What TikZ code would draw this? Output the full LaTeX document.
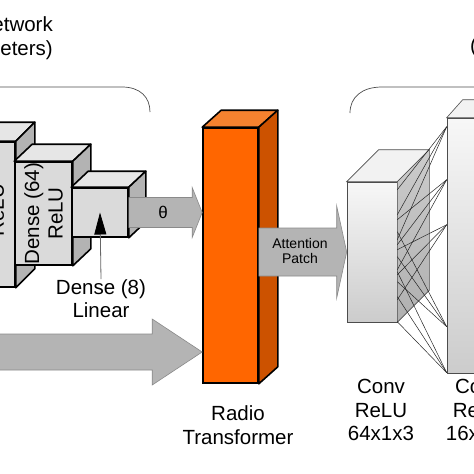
\documentclass[tikz,border=0pt]{standalone}
\usepackage{fontspec}
\setmainfont{Liberation Sans}
\usetikzlibrary{arrows.meta,calc}

\definecolor{orfront}{HTML}{FF6600}
\definecolor{ortop}{HTML}{F5822F}
\definecolor{orside}{HTML}{CC5200}
\definecolor{grfront}{HTML}{DADADA}
\definecolor{grtop}{HTML}{E6E6E6}
\definecolor{grside}{HTML}{B3B3B3}
\definecolor{arfill}{HTML}{B4B4B4}
\definecolor{arline}{HTML}{8A8A8A}

% top and side faces of a box whose front face is node #1
\newcommand{\cubesides}[5]{%
  \draw[#4] (#1.north west) -- ++(#2,#3) -- ([shift={(#2,#3)}]#1.north east) -- (#1.north east) -- cycle;
  \draw[#5] (#1.north east) -- ++(#2,#3) -- ([shift={(#2,#3)}]#1.south east) -- (#1.south east) -- cycle;
}
% fat arrow: from, to, half shaft, half head, head length
\newcommand{\blockarrow}[5]{%
  \draw[fatarrow] ($(#1)+(0,-#3)$) -- ($(#2)+(-#5,-#3)$) -- ($(#2)+(-#5,-#4)$) -- (#2)
    -- ($(#2)+(-#5,#4)$) -- ($(#2)+(-#5,#3)$) -- ($(#1)+(0,#3)$) -- cycle;
}

\begin{document}
\begin{tikzpicture}[x=1pt,y=-1pt,
  lbl/.style={font=\fontsize{20.5}{23.5}\selectfont, align=center, inner sep=0pt},
  densebox/.style={draw=black, line width=1.6pt, fill=grfront, inner sep=0pt},
  densetop/.style={draw=black, line width=1.6pt, fill=grtop, line join=round},
  denseside/.style={draw=black, line width=1.6pt, fill=grside, line join=round},
  orangetop/.style={draw=black, line width=1.6pt, fill=ortop, line join=round},
  orangeside/.style={draw=black, line width=1.6pt, fill=orside, line join=round},
  convbox/.style={draw=black!70, line width=0.6pt, top color=gray!6, bottom color=gray!40, inner sep=0pt},
  convtop/.style={draw=black!70, line width=0.6pt, fill=gray!10},
  convside/.style={draw=black!70, line width=0.6pt, top color=gray!40, bottom color=gray!62},
  fatarrow/.style={draw=arline, line width=0.6pt, fill=arfill},
  kernel/.style={draw=black!85, line width=0.5pt},
  brace/.style={draw=black!70, line width=0.7pt}]
\useasboundingbox (0,0) rectangle (474,474);

% titles and braces
\node[lbl, anchor=east] (nettxt) at (53,24) {etwork};
\node[lbl, anchor=east] (partxt) at (53,50) {eters)};
\node[lbl, anchor=west] (cnntxt) at (470,47) {(};
\draw[brace] (-5,87) -- (122,87) .. controls (140,87) and (150,97) .. (150,112);
\draw[brace] (350,113) .. controls (350,97) and (362,87) .. (382,87) -- (480,87);

% dense layers
\node[densebox, minimum width=60pt, minimum height=145pt] (hid1) at (-15,214.5) {};
\cubesides{hid1}{19}{-19}{densetop}{denseside}
\node[lbl, rotate=90] (hid1txt) at (-3,210) {ReLU};
\node[densebox, minimum width=57pt, minimum height=103pt] (hid2) at (43.5,213.5) {};
\cubesides{hid2}{18}{-17}{densetop}{denseside}
\node[lbl, rotate=90] (hid2txt) at (hid2) {Dense (64)\\ReLU};
\node[densebox, minimum width=56pt, minimum height=49pt] (out8) at (100,212.5) {};
\cubesides{out8}{17}{-16}{densetop}{denseside}
\node[lbl] (out8txt) at (101,298.5) {Dense (8)\\Linear};
\draw[draw=black!60, line width=0.8pt, -{Triangle[length=22pt,width=12pt,color=black]}] (out8txt.north) -- (out8.center);

% radio transformer
\node[draw=black, line width=1.6pt, fill=orfront, minimum width=55pt, minimum height=255pt] (radio) at (230.5,255.5) {};
\cubesides{radio}{19}{-17}{orangetop}{orangeside}
\node[lbl] (radiotxt) at (238,425) {Radio\\Transformer};

% conv layers
\node[convbox, minimum width=73pt, minimum height=255pt] (conv2) at (483.5,245.5) {};
\cubesides{conv2}{16}{-18}{convtop}{convside}
\node[convbox, minimum width=50pt, minimum height=140pt] (conv1) at (372,252) {};
\cubesides{conv1}{32}{-32}{convtop}{convside}
\foreach \f/\s in {9/8, 62/38, 107/68, 209/50, 255/90}
  \foreach \k in {0,25,50}
    \draw[kernel] ($(conv1.north east)+(0,\s+\k)$) -- ($(conv2.north west)+(0,\f)$);
\node[lbl] (conv1txt) at (381,410) {Conv\\ReLU\\64x1x3};
\node[lbl] (conv2txt) at (479,410) {Conv\\ReLU\\16x1x3};

% arrows
\coordinate (inp) at (-10,352);
\coordinate (inpend) at (radio.west |- inp);
\blockarrow{inp}{inpend}{18}{33}{50}
\coordinate (thend) at (radio.west |- out8.east);
\blockarrow{out8.east}{thend}{15}{25}{10}
\node[font=\fontsize{17}{20}\selectfont] (theta) at (163,212) {θ};
\coordinate (atstart) at (radio.east |- conv1.west);
\blockarrow{atstart}{conv1.west}{24}{46}{10}
\node[font=\fontsize{14}{15}\selectfont, align=center] (attn) at (300,251) {Attention\\Patch};
\end{tikzpicture}
\end{document}
